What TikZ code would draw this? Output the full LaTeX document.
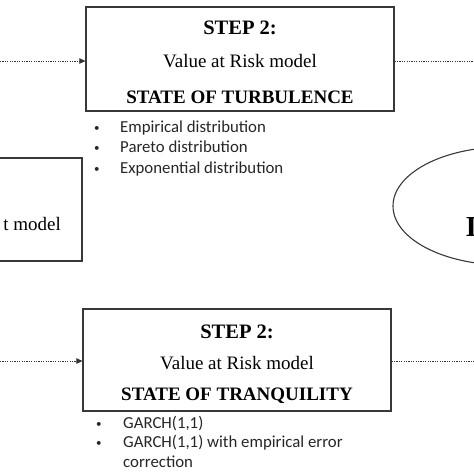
\documentclass[tikz,border=0pt]{standalone}
\usepackage{fontspec}
\setmainfont{Liberation Serif}
\newfontfamily\calib{Carlito}
\usetikzlibrary{shapes.geometric,arrows.meta}
\tikzset{
  boxn/.style={draw=black!78, line width=1.2pt, inner sep=0pt, rectangle},
  dotl/.style={draw=black!80, line width=0.9pt, dash pattern=on 1.2pt off 1.2pt},
  tipa/.style={-{Triangle[length=6pt,width=5.5pt]}},
  txt/.style={inner sep=0pt, anchor=base},
  bigb/.style={txt, font=\fontsize{20.5}{24}\selectfont\bfseries},
  midr/.style={txt, font=\fontsize{19}{23}\selectfont},
  midb/.style={txt, font=\fontsize{19}{23}\selectfont\bfseries},
  bul/.style={inner sep=0pt, anchor=base west, text=black!85, font=\calib\fontsize{16.8}{20}\selectfont},
  dotb/.style={inner sep=0pt, anchor=base west, text=black!85, font=\calib\fontsize{11}{13}\selectfont},
}
\begin{document}
\begin{tikzpicture}[x=1pt,y=-1pt]
\useasboundingbox (0,0) rectangle (474,474);
\clip (0,0) rectangle (474,474);
% top box
\node[boxn, minimum width=308pt, minimum height=104pt] (vt) at (240,59) {};
\node[bigb] (vt1) at (240,34) {STEP 2:};
\node[midr] (vt2) at (240,67.5) {Value at Risk model};
\node[midb] (vt3) at (240,103) {STATE OF TURBULENCE};
% bottom box
\node[boxn, minimum width=308pt, minimum height=102pt] (vb) at (237,360) {};
\node[bigb] (vb1) at (237,338) {STEP 2:};
\node[midr] (vb2) at (237,369.5) {Value at Risk model};
\node[midb] (vb3) at (237,400) {STATE OF TRANQUILITY};
% left box
\node[boxn, minimum width=92pt, minimum height=103pt] (lb) at (36,209.5) {};
\node[midr, anchor=base east] (lbt) at (61,230) {t model};
% ellipse
\node[draw=black!78, line width=1.1pt, ellipse, inner sep=0pt, minimum width=224pt, minimum height=118pt] (el) at (505,206) {};
\node[inner sep=0pt, anchor=base west, font=\fontsize{29}{32}\selectfont\bfseries] (elt) at (465.5,236) {I};
% connectors
\coordinate (a1) at (0,61);
\coordinate (a2) at (474,61);
\coordinate (b1) at (0,361);
\coordinate (b2) at (474,361);
\draw[dotl, tipa] (a1) -- (a1 -| vt.west);
\draw[dotl] (a1 -| vt.east) -- (a2);
\draw[dotl, tipa] (b1) -- (b1 -| vb.west);
\draw[dotl] (b1 -| vb.east) -- (b2);
% bullets top
\node[dotb] (t1b) at (94,131) {•};
\node[bul] (t1) at (120,132) {Empirical distribution};
\node[dotb] (t2b) at (94,151) {•};
\node[bul] (t2) at (120,152) {Pareto distribution};
\node[dotb] (t3b) at (94,172) {•};
\node[bul] (t3) at (120,173) {Exponential distribution};
% bullets bottom
\node[dotb] (u1b) at (96,427) {•};
\node[bul] (u1) at (123,428) {GARCH(1,1)};
\node[dotb] (u2b) at (96,446) {•};
\node[bul] (u2) at (123,447) {GARCH(1,1) with empirical error};
\node[bul] (u3) at (123,467) {correction};
\end{tikzpicture}
\end{document}
